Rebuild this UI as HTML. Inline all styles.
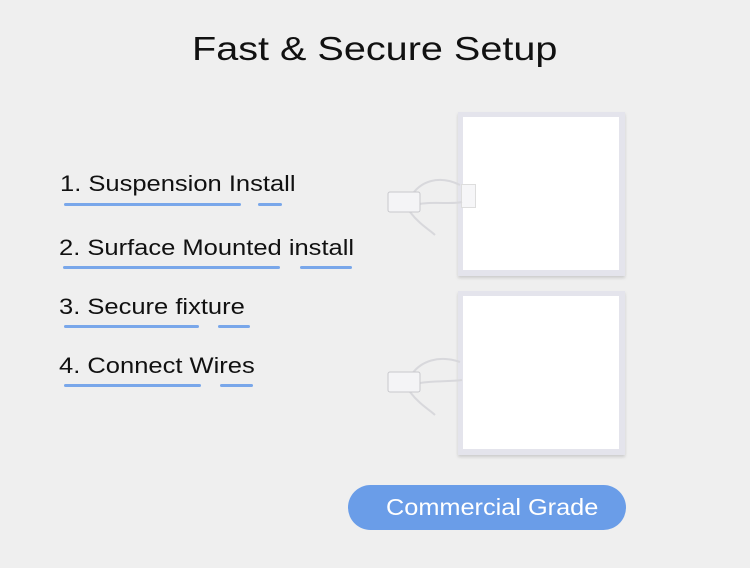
<!DOCTYPE html>
<html><head><style>
body{margin:0;width:750px;height:568px;background:#efefef;position:relative;overflow:hidden;font-family:"Liberation Sans","DejaVu Sans",sans-serif;}
.t{position:absolute;white-space:nowrap;color:#111;transform-origin:0 0;transform:scaleX(1.16);}
.u{position:absolute;height:3px;border-radius:2px;background:#79a7ea;}
.p{position:absolute;background:#e4e4ec;box-shadow:0 2px 3px rgba(0,0,0,.15);}
.p div{position:absolute;left:5px;top:5px;right:6px;bottom:6px;background:#fff;}
</style></head><body>
<div class="t" style="left:192px;top:30px;font-size:33px;transform:scaleX(1.2);">Fast &amp; Secure Setup</div>
<div class="t" style="left:60px;top:171px;font-size:22px;">1. Suspension Install</div>
<div class="u" style="left:64px;top:203px;width:177px"></div><div class="u" style="left:258px;top:203px;width:24px"></div>
<div class="t" style="left:59px;top:235px;font-size:22px;">2. Surface Mounted install</div>
<div class="u" style="left:63px;top:266px;width:217px"></div><div class="u" style="left:300px;top:266px;width:52px"></div>
<div class="t" style="left:59px;top:294px;font-size:22px;">3. Secure fixture</div>
<div class="u" style="left:64px;top:325px;width:135px"></div><div class="u" style="left:218px;top:325px;width:32px"></div>
<div class="t" style="left:59px;top:353px;font-size:22px;">4. Connect Wires</div>
<div class="u" style="left:64px;top:384px;width:137px"></div><div class="u" style="left:220px;top:384px;width:33px"></div>
<div class="p" style="left:458px;top:112px;width:167px;height:164px"><div></div></div>
<div class="p" style="left:458px;top:291px;width:167px;height:164px"><div></div></div>
<div style="position:absolute;left:461px;top:184px;width:13px;height:22px;background:#f6f6f8;border:1px solid #ddd"></div>
<svg style="position:absolute;left:380px;top:170px" width="90" height="260">
<g fill="none" stroke="#d8d8dc" stroke-width="2">
<path d="M30 28 C 40 10, 60 5, 80 15"/><path d="M30 36 C 50 30, 70 35, 82 32"/><path d="M30 42 C 40 55, 50 60, 55 65"/>
<path d="M30 207 C 40 190, 60 185, 80 192"/><path d="M30 215 C 50 210, 70 212, 82 210"/><path d="M30 222 C 40 235, 50 240, 55 245"/>
</g>
<rect x="8" y="22" width="32" height="20" rx="2" fill="#f4f4f6" stroke="#c8c8cc"/>
<rect x="8" y="202" width="32" height="20" rx="2" fill="#f4f4f6" stroke="#c8c8cc"/>
</svg>
<div style="position:absolute;left:348px;top:485px;width:278px;height:45px;border-radius:23px;background:#6a9de8;"></div>
<div class="t" style="left:386px;top:494px;font-size:23px;color:#fff;transform:scaleX(1.1);">Commercial Grade</div>
</body></html>
